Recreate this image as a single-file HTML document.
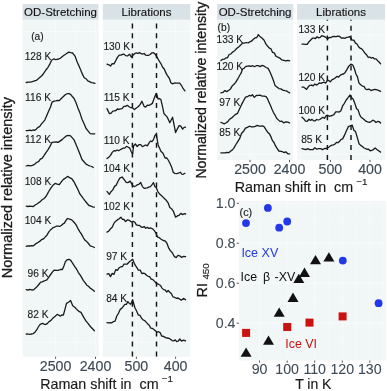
<!DOCTYPE html>
<html><head><meta charset="utf-8"><style>
html,body{margin:0;padding:0;background:#fff;}
svg{display:block;will-change:transform;}
text{font-family:"Liberation Sans",sans-serif;}
</style></head><body>
<svg width="387" height="391" viewBox="0 0 387 391">
<rect width="387" height="391" fill="#fff"/>
<rect x="22.6" y="4.0" width="75.90" height="15.80" fill="#D9E2E6"/>
<rect x="102.8" y="4.0" width="87.50" height="15.80" fill="#D9E2E6"/>
<rect x="22.6" y="19.8" width="75.90" height="336.90" fill="#F1F6F6"/>
<rect x="102.8" y="19.8" width="87.50" height="336.90" fill="#F1F6F6"/>
<line x1="75.6" y1="19.8" x2="75.6" y2="356.7" stroke="#FFFFFF" stroke-width="0.5"  stroke-opacity="0.55"/>
<line x1="55.6" y1="19.8" x2="55.6" y2="356.7" stroke="#FFFFFF" stroke-width="1"  stroke-opacity="0.55"/>
<line x1="95.5" y1="19.8" x2="95.5" y2="356.7" stroke="#FFFFFF" stroke-width="1"  stroke-opacity="0.55"/>
<line x1="156.0" y1="19.8" x2="156.0" y2="356.7" stroke="#FFFFFF" stroke-width="0.5"  stroke-opacity="0.55"/>
<line x1="136.4" y1="19.8" x2="136.4" y2="356.7" stroke="#FFFFFF" stroke-width="1"  stroke-opacity="0.55"/>
<line x1="175.6" y1="19.8" x2="175.6" y2="356.7" stroke="#FFFFFF" stroke-width="1"  stroke-opacity="0.55"/>
<line x1="22.6" y1="31.5" x2="98.5" y2="31.5" stroke="#FFFFFF" stroke-width="1"  stroke-opacity="0.55"/>
<line x1="102.8" y1="31.5" x2="190.3" y2="31.5" stroke="#FFFFFF" stroke-width="1"  stroke-opacity="0.55"/>
<line x1="22.6" y1="342.2" x2="98.5" y2="342.2" stroke="#FFFFFF" stroke-width="1"  stroke-opacity="0.55"/>
<line x1="102.8" y1="342.2" x2="190.3" y2="342.2" stroke="#FFFFFF" stroke-width="1"  stroke-opacity="0.55"/>
<text x="60.55" y="16.4" font-size="11.5" fill="#111" stroke="#111" stroke-width="0.12" text-anchor="middle" >OD-Stretching</text>
<text x="146.55" y="16.4" font-size="11.5" fill="#111" stroke="#111" stroke-width="0.12" text-anchor="middle" >Librations</text>
<rect x="217.0" y="4.0" width="76.20" height="15.80" fill="#D9E2E6"/>
<rect x="297.0" y="4.0" width="88.00" height="15.80" fill="#D9E2E6"/>
<rect x="217.0" y="19.8" width="76.20" height="140.10" fill="#F1F6F6"/>
<rect x="297.0" y="19.8" width="88.00" height="140.10" fill="#F1F6F6"/>
<line x1="269.8" y1="19.8" x2="269.8" y2="159.9" stroke="#FFFFFF" stroke-width="0.5"  stroke-opacity="0.55"/>
<line x1="250.0" y1="19.8" x2="250.0" y2="159.9" stroke="#FFFFFF" stroke-width="1"  stroke-opacity="0.55"/>
<line x1="289.5" y1="19.8" x2="289.5" y2="159.9" stroke="#FFFFFF" stroke-width="1"  stroke-opacity="0.55"/>
<line x1="350.2" y1="19.8" x2="350.2" y2="159.9" stroke="#FFFFFF" stroke-width="0.5"  stroke-opacity="0.55"/>
<line x1="330.4" y1="19.8" x2="330.4" y2="159.9" stroke="#FFFFFF" stroke-width="1"  stroke-opacity="0.55"/>
<line x1="370.0" y1="19.8" x2="370.0" y2="159.9" stroke="#FFFFFF" stroke-width="1"  stroke-opacity="0.55"/>
<line x1="217.0" y1="35.2" x2="293.2" y2="35.2" stroke="#FFFFFF" stroke-width="1"  stroke-opacity="0.55"/>
<line x1="297.0" y1="35.2" x2="385.0" y2="35.2" stroke="#FFFFFF" stroke-width="1"  stroke-opacity="0.55"/>
<line x1="217.0" y1="154.6" x2="293.2" y2="154.6" stroke="#FFFFFF" stroke-width="1"  stroke-opacity="0.55"/>
<line x1="297.0" y1="154.6" x2="385.0" y2="154.6" stroke="#FFFFFF" stroke-width="1"  stroke-opacity="0.55"/>
<text x="255.1" y="16.4" font-size="11.5" fill="#111" stroke="#111" stroke-width="0.12" text-anchor="middle" >OD-Stretching</text>
<text x="341.0" y="16.4" font-size="11.5" fill="#111" stroke="#111" stroke-width="0.12" text-anchor="middle" >Librations</text>
<rect x="238.9" y="200.9" width="147.30" height="159.60" fill="#F1F6F6"/>
<line x1="259.6" y1="200.9" x2="259.6" y2="360.5" stroke="#FFFFFF" stroke-width="1"  stroke-opacity="0.55"/>
<line x1="287.15000000000003" y1="200.9" x2="287.15000000000003" y2="360.5" stroke="#FFFFFF" stroke-width="1"  stroke-opacity="0.55"/>
<line x1="314.70000000000005" y1="200.9" x2="314.70000000000005" y2="360.5" stroke="#FFFFFF" stroke-width="1"  stroke-opacity="0.55"/>
<line x1="342.25" y1="200.9" x2="342.25" y2="360.5" stroke="#FFFFFF" stroke-width="1"  stroke-opacity="0.55"/>
<line x1="369.8" y1="200.9" x2="369.8" y2="360.5" stroke="#FFFFFF" stroke-width="1"  stroke-opacity="0.55"/>
<line x1="245.82500000000002" y1="200.9" x2="245.82500000000002" y2="360.5" stroke="#FFFFFF" stroke-width="0.5"  stroke-opacity="0.55"/>
<line x1="273.375" y1="200.9" x2="273.375" y2="360.5" stroke="#FFFFFF" stroke-width="0.5"  stroke-opacity="0.55"/>
<line x1="300.925" y1="200.9" x2="300.925" y2="360.5" stroke="#FFFFFF" stroke-width="0.5"  stroke-opacity="0.55"/>
<line x1="328.475" y1="200.9" x2="328.475" y2="360.5" stroke="#FFFFFF" stroke-width="0.5"  stroke-opacity="0.55"/>
<line x1="356.02500000000003" y1="200.9" x2="356.02500000000003" y2="360.5" stroke="#FFFFFF" stroke-width="0.5"  stroke-opacity="0.55"/>
<line x1="383.57500000000005" y1="200.9" x2="383.57500000000005" y2="360.5" stroke="#FFFFFF" stroke-width="0.5"  stroke-opacity="0.55"/>
<line x1="238.9" y1="203.3" x2="386.2" y2="203.3" stroke="#FFFFFF" stroke-width="1"  stroke-opacity="0.55"/>
<line x1="238.9" y1="243.26" x2="386.2" y2="243.26" stroke="#FFFFFF" stroke-width="1"  stroke-opacity="0.55"/>
<line x1="238.9" y1="283.22" x2="386.2" y2="283.22" stroke="#FFFFFF" stroke-width="1"  stroke-opacity="0.55"/>
<line x1="238.9" y1="323.18" x2="386.2" y2="323.18" stroke="#FFFFFF" stroke-width="1"  stroke-opacity="0.55"/>
<line x1="238.9" y1="223.28" x2="386.2" y2="223.28" stroke="#FFFFFF" stroke-width="0.5"  stroke-opacity="0.55"/>
<line x1="238.9" y1="263.24" x2="386.2" y2="263.24" stroke="#FFFFFF" stroke-width="0.5"  stroke-opacity="0.55"/>
<line x1="238.9" y1="303.20000000000005" x2="386.2" y2="303.20000000000005" stroke="#FFFFFF" stroke-width="0.5"  stroke-opacity="0.55"/>
<line x1="238.9" y1="343.15999999999997" x2="386.2" y2="343.15999999999997" stroke="#FFFFFF" stroke-width="0.5"  stroke-opacity="0.55"/>
<polyline points="26.2,82.5 28.3,82.1 30.3,82.2 32.4,81.6 34.5,80.9 36.5,80.3 38.6,78.6 40.3,77.1 42.1,75.5 43.8,73.1 45.9,70.0 48.0,67.3 49.8,64.1 51.6,60.3 54.0,58.8 55.5,59.7 57.0,59.3 58.6,59.0 60.2,58.3 62.1,56.7 64.0,55.3 66.3,53.8 68.7,52.1 70.7,52.6 72.6,53.0 75.0,56.1 77.2,61.9 78.8,65.5 80.5,69.4 82.3,73.9 84.2,77.7 86.0,78.7 87.8,80.9 89.6,81.6 91.4,82.6 93.2,82.8 95.0,83.4" fill="none" stroke="#1a1a1a" stroke-width="1.3" stroke-linejoin="round" stroke-linecap="round"/>
<polyline points="26.2,130.7 27.9,130.6 29.7,130.2 31.4,130.6 33.0,130.0 34.5,130.4 36.2,129.3 37.9,127.4 39.6,126.6 41.3,124.2 43.1,122.1 44.8,120.1 46.8,115.4 48.9,110.6 50.5,107.0 52.0,102.2 54.1,101.1 55.8,100.9 57.6,100.3 59.3,100.6 61.3,98.5 63.4,96.5 65.5,94.5 67.5,93.7 69.0,93.7 70.6,94.4 72.3,96.5 74.1,98.5 76.0,102.7 77.9,107.9 80.0,113.1 82.0,119.2 84.0,123.5 86.1,128.5 88.2,131.1 90.2,133.6 92.5,133.8 94.8,133.8" fill="none" stroke="#1a1a1a" stroke-width="1.3" stroke-linejoin="round" stroke-linecap="round"/>
<polyline points="26.2,166.0 28.3,165.4 30.3,165.9 32.4,165.3 34.5,164.4 36.5,162.5 38.6,161.7 40.3,159.2 42.1,158.3 43.8,155.9 45.8,152.8 47.9,149.8 50.0,146.4 52.0,142.3 54.1,142.1 56.2,142.0 58.2,142.4 60.3,140.9 62.4,139.4 64.5,137.4 66.5,135.8 68.5,135.4 70.6,135.8 72.3,137.8 74.1,139.9 76.0,144.6 77.9,148.9 80.0,154.2 82.0,159.5 84.0,161.8 86.1,164.1 88.2,165.3 90.2,166.0 91.8,166.5 93.3,167.5" fill="none" stroke="#1a1a1a" stroke-width="1.3" stroke-linejoin="round" stroke-linecap="round"/>
<polyline points="26.2,206.2 28.0,206.5 29.8,206.1 31.6,206.4 33.4,206.5 35.1,205.0 36.9,204.0 38.6,202.7 40.3,201.6 42.1,199.7 43.8,198.7 45.3,197.3 46.9,194.9 49.0,191.0 51.0,187.8 53.0,185.2 55.1,183.4 57.2,184.1 59.3,184.7 61.3,181.9 63.4,179.4 65.5,178.1 67.5,176.4 69.6,177.6 71.7,178.7 73.8,181.5 75.8,185.4 77.8,189.3 79.9,194.0 81.6,196.1 83.4,198.6 85.1,200.8 87.2,203.5 89.2,205.7 90.9,206.0 92.7,206.9 94.4,207.2" fill="none" stroke="#1a1a1a" stroke-width="1.3" stroke-linejoin="round" stroke-linecap="round"/>
<polyline points="26.2,246.4 28.0,245.8 29.8,246.0 31.6,245.6 33.4,245.8 35.5,243.9 37.5,242.7 39.6,241.4 41.7,239.6 43.8,238.6 45.3,236.9 46.9,235.2 49.0,231.6 51.0,229.4 52.7,227.9 54.5,227.2 56.2,226.2 57.9,226.1 59.6,226.3 61.3,225.5 62.9,224.0 64.4,223.1 66.0,220.4 67.5,218.5 69.6,219.1 71.7,219.9 73.8,222.0 75.8,224.4 77.8,228.3 79.9,231.8 81.6,234.4 83.4,237.8 85.1,240.3 86.8,241.6 88.5,243.5 90.2,245.8 92.3,246.5 94.4,247.5" fill="none" stroke="#1a1a1a" stroke-width="1.3" stroke-linejoin="round" stroke-linecap="round"/>
<polyline points="26.2,289.7 28.0,290.1 29.8,289.3 31.6,290.0 33.4,289.9 35.5,288.1 37.6,286.0 39.2,284.0 40.7,282.2 42.2,281.8 43.8,281.1 45.3,280.5 46.9,279.9 49.0,276.8 51.0,274.0 52.5,271.9 54.1,270.2 56.2,270.3 58.2,270.3 60.3,269.5 62.4,269.5 64.0,265.7 65.5,261.4 67.5,259.6 69.0,259.4 70.6,260.2 72.7,263.4 74.8,266.7 76.5,269.0 78.2,272.3 79.9,274.7 81.6,277.4 83.4,280.6 85.1,282.7 86.8,285.2 88.5,286.3 90.2,288.1 92.3,289.5 94.4,291.3" fill="none" stroke="#1a1a1a" stroke-width="1.3" stroke-linejoin="round" stroke-linecap="round"/>
<polyline points="26.2,334.0 28.2,334.2 30.3,334.4 31.9,333.9 33.4,333.6 35.0,332.2 36.5,330.2 38.0,327.5 39.6,325.0 41.2,323.8 42.7,323.3 44.2,324.3 45.8,324.4 47.3,323.6 48.9,321.7 51.0,320.4 53.1,317.9 55.2,316.3 57.2,314.4 58.8,315.1 60.3,316.2 61.8,315.0 63.4,315.0 65.0,309.1 66.5,303.4 68.5,302.2 70.6,300.4 72.7,305.7 74.8,307.2 76.8,309.4 78.9,311.3 81.0,312.4 82.5,315.1 84.0,317.9 86.1,321.1 88.2,323.7 90.3,326.5 92.3,328.5 94.4,330.7" fill="none" stroke="#1a1a1a" stroke-width="1.3" stroke-linejoin="round" stroke-linecap="round"/>
<text x="38.0" y="59.6" font-size="10.2" fill="#1a1a1a" stroke="#1a1a1a" stroke-width="0.12" text-anchor="middle" >128 K</text>
<text x="38.0" y="101.4" font-size="10.2" fill="#1a1a1a" stroke="#1a1a1a" stroke-width="0.12" text-anchor="middle" >116 K</text>
<text x="38.0" y="142.7" font-size="10.2" fill="#1a1a1a" stroke="#1a1a1a" stroke-width="0.12" text-anchor="middle" >112 K</text>
<text x="38.0" y="184.9" font-size="10.2" fill="#1a1a1a" stroke="#1a1a1a" stroke-width="0.12" text-anchor="middle" >108 K</text>
<text x="38.0" y="224.1" font-size="10.2" fill="#1a1a1a" stroke="#1a1a1a" stroke-width="0.12" text-anchor="middle" >104 K</text>
<text x="38.0" y="276.9" font-size="10.2" fill="#1a1a1a" stroke="#1a1a1a" stroke-width="0.12" text-anchor="middle" >96 K</text>
<text x="38.0" y="317.9" font-size="10.2" fill="#1a1a1a" stroke="#1a1a1a" stroke-width="0.12" text-anchor="middle" >82 K</text>
<polyline points="107.0,64.2 108.8,64.8 110.5,66.0 112.2,63.6 114.0,63.9 115.7,60.7 117.4,57.4 119.2,55.2 120.9,55.1 122.5,54.3 124.0,54.1 125.6,55.6 127.5,55.9 129.5,54.2 131.4,57.1 133.2,54.9 134.9,53.4 136.4,52.9 138.0,53.5 139.5,52.4 141.1,53.7 142.6,54.1 144.2,53.5 145.7,55.2 147.3,55.4 148.8,55.3 150.4,54.3 151.9,52.8 153.5,52.7 155.2,54.2 157.0,57.2 159.3,61.2 161.1,64.0 162.8,67.5 164.3,69.0 165.9,72.9 167.4,75.6 169.2,78.0 170.9,82.7 172.7,83.9 174.4,83.0 176.2,83.2 177.9,83.2 179.7,83.1 181.4,85.3 183.2,88.7 184.9,90.9" fill="none" stroke="#1a1a1a" stroke-width="1.3" stroke-linejoin="round" stroke-linecap="round"/>
<polyline points="107.0,108.6 109.3,113.5 111.0,113.3 112.8,111.1 114.3,110.9 115.9,110.5 117.4,109.0 119.0,109.4 120.5,108.9 122.1,108.7 123.8,106.3 125.6,106.4 127.3,105.3 129.1,106.7 130.8,107.7 132.6,107.9 134.3,109.6 136.0,108.2 138.4,106.5 140.2,104.4 141.9,101.2 144.2,106.4 145.7,107.1 147.3,105.2 148.8,105.3 150.6,104.6 152.3,103.4 154.7,97.1 156.3,93.3 158.1,99.0 159.5,98.6 160.9,99.7 162.4,106.2 164.0,113.7 165.7,115.4 167.4,117.4 169.8,122.7 171.2,120.0 172.6,117.3 174.1,125.2 175.6,132.5 177.3,129.0 179.1,125.6 180.8,126.2 182.6,129.2 184.1,127.4 185.6,127.2" fill="none" stroke="#1a1a1a" stroke-width="1.3" stroke-linejoin="round" stroke-linecap="round"/>
<polyline points="107.0,158.6 108.8,157.2 110.5,155.4 112.2,152.4 114.0,150.6 115.5,151.0 117.1,150.0 118.6,150.8 120.2,149.7 121.7,148.9 123.3,148.2 124.8,148.1 126.4,146.4 127.9,147.0 129.7,148.1 131.4,152.0 132.6,153.8 133.7,145.7 135.4,144.0 137.2,146.5 138.9,144.7 140.7,144.6 142.4,146.7 144.2,145.7 145.7,145.0 147.3,145.8 148.8,143.3 150.4,141.0 151.9,141.7 153.5,139.6 154.9,135.4 156.3,134.2 158.1,144.9 159.5,148.1 160.9,151.2 163.0,153.3 165.1,158.0 166.7,157.8 168.2,160.0 169.8,163.0 171.6,166.9 173.3,172.5 175.0,173.4 176.7,173.6 178.4,173.2 180.2,172.2 181.8,174.1 183.3,174.3 184.9,173.3" fill="none" stroke="#1a1a1a" stroke-width="1.3" stroke-linejoin="round" stroke-linecap="round"/>
<polyline points="107.0,191.4 109.3,194.3 111.0,191.7 112.8,189.9 114.5,186.4 116.3,185.1 118.0,181.3 119.8,178.1 122.1,177.0 124.4,179.9 126.2,182.4 127.9,182.6 130.2,181.1 132.6,185.5 134.1,186.6 135.7,186.0 137.2,184.8 138.9,184.3 140.7,182.5 142.4,186.6 144.2,188.4 145.7,188.1 147.3,187.8 148.8,187.2 150.4,186.6 151.9,184.9 153.5,182.6 154.9,186.6 156.3,187.7 157.8,191.5 159.3,193.7 161.1,195.3 162.8,196.9 164.6,198.8 166.3,200.3 168.1,202.8 169.8,207.4 171.6,208.8 173.3,211.1 175.6,217.2 177.3,215.9 179.1,215.3 180.8,213.4 182.6,214.6 184.1,213.7 185.6,214.0" fill="none" stroke="#1a1a1a" stroke-width="1.3" stroke-linejoin="round" stroke-linecap="round"/>
<polyline points="107.0,232.1 108.8,231.0 110.5,228.8 112.2,227.3 114.0,223.2 115.7,221.2 117.4,219.9 119.2,218.8 120.9,217.2 122.5,219.3 124.0,219.5 125.6,221.6 127.5,219.8 129.5,220.4 131.4,222.0 133.2,221.3 134.9,222.3 136.4,224.8 138.0,225.3 139.5,225.4 141.1,227.0 142.6,227.4 144.2,226.5 145.7,228.3 147.3,227.2 148.8,228.4 150.8,228.0 152.7,228.9 154.7,231.1 155.8,233.0 157.6,237.1 159.3,237.7 161.2,239.2 163.2,240.5 165.1,240.8 166.8,243.0 168.6,247.8 170.3,250.6 172.1,252.5 174.4,256.6 176.2,257.6 177.9,255.4 179.7,255.8 181.4,257.4 183.5,256.4 185.6,256.7" fill="none" stroke="#1a1a1a" stroke-width="1.3" stroke-linejoin="round" stroke-linecap="round"/>
<polyline points="107.0,274.2 108.8,273.6 110.5,276.6 112.2,273.4 114.0,274.4 115.7,269.6 117.4,270.3 119.2,267.7 120.9,266.8 122.5,266.5 124.0,264.1 125.6,264.2 127.3,264.0 129.1,262.0 130.8,260.8 132.6,259.2 134.9,264.7 136.7,267.3 138.4,270.1 140.2,270.1 141.9,273.5 143.4,273.1 145.0,273.7 146.5,275.3 148.1,276.3 149.6,276.7 151.2,279.1 152.9,279.6 154.6,281.4 156.3,283.3 158.4,284.2 160.5,285.5 162.0,288.1 163.6,289.6 165.1,289.8 166.7,292.0 168.2,290.5 169.8,292.2 171.3,293.5 172.9,296.8 174.4,297.2 176.2,298.3 177.9,298.0 179.7,299.1 181.4,300.2 183.5,298.4 185.6,299.8" fill="none" stroke="#1a1a1a" stroke-width="1.3" stroke-linejoin="round" stroke-linecap="round"/>
<polyline points="107.0,322.6 108.5,322.8 110.1,322.7 111.6,322.9 113.3,321.7 115.1,321.1 116.8,316.0 118.6,313.1 120.2,309.4 121.7,308.4 123.3,306.3 124.8,304.4 126.4,304.4 127.9,301.5 129.3,303.5 130.7,304.2 132.6,299.7 134.9,307.8 136.7,311.3 138.4,315.2 139.9,315.2 141.5,318.1 143.0,319.8 144.6,320.5 146.1,322.1 147.7,323.9 149.2,325.2 150.8,328.1 152.3,328.3 153.9,329.5 155.4,330.8 157.0,332.2 158.5,331.7 160.1,332.6 161.6,336.0 163.5,336.4 165.5,337.6 167.4,338.0 169.0,338.4 170.5,339.3 172.1,340.6 173.6,340.9 175.2,339.9 176.7,341.6 178.3,341.0 179.8,339.0 181.4,341.1 183.5,340.2 185.6,340.9" fill="none" stroke="#1a1a1a" stroke-width="1.3" stroke-linejoin="round" stroke-linecap="round"/>
<text x="116.7" y="49.8" font-size="10.2" fill="#1a1a1a" stroke="#1a1a1a" stroke-width="0.12" text-anchor="middle" >130 K</text>
<text x="116.7" y="100.9" font-size="10.2" fill="#1a1a1a" stroke="#1a1a1a" stroke-width="0.12" text-anchor="middle" >115 K</text>
<text x="116.7" y="143.5" font-size="10.2" fill="#1a1a1a" stroke="#1a1a1a" stroke-width="0.12" text-anchor="middle" >110 K</text>
<text x="116.7" y="172.1" font-size="10.2" fill="#1a1a1a" stroke="#1a1a1a" stroke-width="0.12" text-anchor="middle" >104 K</text>
<text x="116.7" y="210" font-size="10.2" fill="#1a1a1a" stroke="#1a1a1a" stroke-width="0.12" text-anchor="middle" >102 K</text>
<text x="116.7" y="260.2" font-size="10.2" fill="#1a1a1a" stroke="#1a1a1a" stroke-width="0.12" text-anchor="middle" >97 K</text>
<text x="116.7" y="301.6" font-size="10.2" fill="#1a1a1a" stroke="#1a1a1a" stroke-width="0.12" text-anchor="middle" >84 K</text>
<polyline points="220.9,60.5 222.5,59.4 224.2,59.2 225.8,57.9 227.5,57.8 229.1,54.5 230.8,54.0 232.7,52.0 234.7,50.7 236.6,48.5 238.6,46.9 240.5,45.3 242.5,43.1 244.5,43.1 246.5,42.5 248.1,43.0 249.8,41.9 251.4,41.2 253.4,39.2 255.3,37.8 256.8,37.5 258.3,34.6 260.2,36.8 262.2,38.3 264.1,40.2 266.1,44.4 267.7,46.2 269.4,48.1 271.0,48.9 272.6,52.4 274.3,52.9 275.9,56.1 277.9,57.2 279.8,58.1 281.8,59.9 283.8,60.4 285.8,60.9 287.8,60.3 289.7,60.8" fill="none" stroke="#1a1a1a" stroke-width="1.3" stroke-linejoin="round" stroke-linecap="round"/>
<polyline points="220.9,92.9 222.9,92.4 224.9,90.6 226.8,91.6 228.8,90.2 230.5,88.9 232.2,85.9 234.0,84.3 235.7,82.4 237.6,79.2 239.6,75.5 241.1,73.2 242.5,69.0 244.0,68.4 245.5,66.6 247.3,66.1 249.2,66.0 251.0,66.4 252.8,65.7 254.5,66.7 256.3,65.7 258.3,65.6 260.2,66.6 262.2,65.4 264.2,66.2 266.1,67.5 268.1,68.4 270.1,72.3 272.0,76.7 273.5,80.8 275.0,85.4 276.9,86.9 278.9,88.6 280.9,88.9 282.8,90.1 284.8,90.7 286.4,90.9 288.1,92.0 289.7,92.9" fill="none" stroke="#1a1a1a" stroke-width="1.3" stroke-linejoin="round" stroke-linecap="round"/>
<polyline points="220.9,122.4 222.5,123.0 224.2,123.8 225.8,123.0 227.8,121.6 229.7,119.2 231.7,117.9 233.7,116.1 235.6,114.3 237.6,113.3 239.6,108.8 241.6,104.4 243.6,100.7 245.5,97.1 247.4,96.7 249.4,95.4 250.9,96.0 252.4,94.7 254.3,97.4 256.3,95.5 258.3,95.4 260.2,95.1 262.2,96.2 264.2,96.2 266.1,96.7 267.6,98.9 269.1,102.4 270.6,105.8 272.0,109.3 273.5,112.6 275.0,115.0 276.6,118.3 278.3,119.9 279.9,121.4 281.9,121.2 283.8,122.9 285.8,121.8 287.8,122.1 289.7,123.0" fill="none" stroke="#1a1a1a" stroke-width="1.3" stroke-linejoin="round" stroke-linecap="round"/>
<polyline points="220.9,152.9 222.9,152.9 224.9,152.8 226.8,152.5 228.8,152.7 230.4,151.2 232.1,150.1 233.7,148.4 235.6,145.0 237.6,141.8 239.6,138.7 241.6,133.3 243.6,131.2 245.5,128.2 247.4,127.4 249.4,126.2 251.4,126.9 253.3,126.9 255.3,126.3 257.2,125.4 259.2,126.1 260.9,126.1 262.5,125.9 264.2,126.8 266.1,129.8 268.1,132.8 269.6,134.1 271.0,136.9 272.5,140.7 274.0,142.5 275.4,145.7 276.9,148.2 278.9,151.0 280.9,151.4 282.5,151.7 284.2,152.6 285.8,151.8 287.8,153.8 289.7,153.9" fill="none" stroke="#1a1a1a" stroke-width="1.3" stroke-linejoin="round" stroke-linecap="round"/>
<text x="229.8" y="43.4" font-size="10.2" fill="#1a1a1a" stroke="#1a1a1a" stroke-width="0.12" text-anchor="middle" >133 K</text>
<text x="229.8" y="70.3" font-size="10.2" fill="#1a1a1a" stroke="#1a1a1a" stroke-width="0.12" text-anchor="middle" >120 K</text>
<text x="229.8" y="106" font-size="10.2" fill="#1a1a1a" stroke="#1a1a1a" stroke-width="0.12" text-anchor="middle" >97 K</text>
<text x="229.8" y="135.8" font-size="10.2" fill="#1a1a1a" stroke="#1a1a1a" stroke-width="0.12" text-anchor="middle" >85 K</text>
<polyline points="302.0,44.1 303.8,44.2 305.5,44.3 307.2,44.3 309.0,41.7 310.7,40.0 312.4,38.2 314.0,38.2 315.5,38.5 317.1,36.8 318.6,37.9 320.2,37.4 321.7,35.7 323.7,36.3 325.6,37.1 327.6,39.1 329.1,37.5 330.7,37.6 332.2,36.7 334.1,36.5 336.1,36.7 338.0,36.2 339.8,36.5 341.5,38.2 343.2,37.8 345.0,38.3 346.6,37.4 348.1,37.2 349.7,36.6 352.0,40.2 353.8,40.2 355.5,43.1 357.0,44.0 358.6,46.8 360.1,48.2 361.7,48.9 363.2,50.7 364.8,53.0 366.6,54.8 368.3,57.5 369.8,57.0 371.4,58.2 372.9,57.5 374.5,58.9 376.0,58.8 377.6,60.7 379.1,62.0 380.6,63.8" fill="none" stroke="#1a1a1a" stroke-width="1.3" stroke-linejoin="round" stroke-linecap="round"/>
<polyline points="302.0,87.1 303.5,87.1 305.1,88.3 306.6,89.4 308.4,86.6 310.1,85.3 311.7,85.1 313.2,85.8 314.8,83.9 316.3,85.1 317.9,84.2 319.4,82.8 321.0,83.4 322.5,82.6 324.1,82.2 325.6,83.1 327.2,80.6 328.7,80.5 330.3,81.8 331.8,79.8 333.4,79.2 335.1,77.9 336.9,76.4 338.6,77.2 340.3,75.1 341.9,74.4 343.4,74.0 345.0,72.7 347.0,69.4 348.8,66.1 350.8,64.2 352.8,65.1 354.6,69.3 355.9,74.0 357.4,76.6 359.0,83.1 360.7,84.8 362.4,86.1 364.0,86.4 365.5,89.0 367.1,89.7 369.0,89.1 371.0,90.6 372.9,89.9 374.6,89.4 376.4,89.7 378.5,90.3 380.6,91.3" fill="none" stroke="#1a1a1a" stroke-width="1.3" stroke-linejoin="round" stroke-linecap="round"/>
<polyline points="302.0,117.2 303.8,118.9 305.5,121.1 307.2,121.3 309.0,119.3 310.5,120.4 312.1,119.4 313.6,120.9 315.2,120.8 316.7,119.5 318.3,120.0 319.8,119.5 321.4,118.2 322.9,117.4 324.5,118.3 326.0,115.9 327.6,115.2 329.1,116.3 330.7,115.9 332.2,115.5 333.9,114.6 335.7,111.8 337.4,111.9 339.2,112.0 340.9,110.8 342.7,105.7 344.4,103.3 346.2,100.0 348.1,97.6 350.1,95.0 351.6,97.7 353.1,99.1 354.9,103.6 356.6,108.8 358.2,110.1 359.7,114.9 361.3,117.5 362.8,118.4 364.4,119.7 365.9,121.2 367.6,121.9 369.4,122.4 371.1,121.6 372.9,120.2 374.5,121.0 376.0,122.5 377.6,121.5 379.1,121.6 380.6,123.0" fill="none" stroke="#1a1a1a" stroke-width="1.3" stroke-linejoin="round" stroke-linecap="round"/>
<polyline points="302.0,148.6 303.9,149.1 305.9,149.7 307.8,148.7 309.6,149.6 311.3,149.7 313.1,149.5 314.8,147.8 316.7,149.1 318.7,148.7 320.6,148.6 322.5,149.6 324.5,148.5 326.4,148.5 328.7,147.2 330.3,146.0 331.8,145.1 333.4,144.8 334.9,144.2 336.5,142.3 338.0,142.7 339.6,141.3 341.1,139.3 342.7,138.9 344.4,135.4 346.2,131.2 348.5,126.4 350.3,125.9 352.2,125.1 353.9,130.2 355.5,131.6 357.2,137.1 359.0,143.7 360.7,145.4 362.4,146.5 364.0,148.0 365.5,148.5 367.1,149.4 368.6,149.2 370.2,150.8 371.7,150.4 373.4,149.6 375.2,148.0 376.9,149.4 378.7,150.8 380.6,152.1" fill="none" stroke="#1a1a1a" stroke-width="1.3" stroke-linejoin="round" stroke-linecap="round"/>
<text x="311.7" y="33.1" font-size="10.2" fill="#1a1a1a" stroke="#1a1a1a" stroke-width="0.12" text-anchor="middle" >133 K</text>
<text x="311.7" y="81.3" font-size="10.2" fill="#1a1a1a" stroke="#1a1a1a" stroke-width="0.12" text-anchor="middle" >120 K</text>
<text x="311.7" y="113.7" font-size="10.2" fill="#1a1a1a" stroke="#1a1a1a" stroke-width="0.12" text-anchor="middle" >100 K</text>
<text x="311.7" y="143.3" font-size="10.2" fill="#1a1a1a" stroke="#1a1a1a" stroke-width="0.12" text-anchor="middle" >85 K</text>
<text x="31.2" y="40.0" font-size="10.2" fill="#1a1a1a" stroke="#1a1a1a" stroke-width="0.15" text-anchor="start" >(a)</text>
<text x="217.6" y="30.8" font-size="10.2" fill="#1a1a1a" stroke="#1a1a1a" stroke-width="0.15" text-anchor="start" >(b)</text>
<line x1="132.4" y1="356.4" x2="132.4" y2="19.8" stroke="#151515" stroke-width="1.45" stroke-dasharray="5 4.94"/>
<line x1="156.5" y1="356.4" x2="156.5" y2="19.8" stroke="#151515" stroke-width="1.45" stroke-dasharray="5 4.94"/>
<line x1="327.4" y1="159.9" x2="327.4" y2="19.8" stroke="#151515" stroke-width="1.45" stroke-dasharray="5 4.94"/>
<line x1="351.0" y1="159.9" x2="351.0" y2="19.8" stroke="#151515" stroke-width="1.45" stroke-dasharray="5 4.94"/>
<line x1="55.6" y1="356.7" x2="55.6" y2="358.9" stroke="#555" stroke-width="1" />
<line x1="95.5" y1="356.7" x2="95.5" y2="358.9" stroke="#555" stroke-width="1" />
<line x1="136.4" y1="356.7" x2="136.4" y2="358.9" stroke="#555" stroke-width="1" />
<line x1="175.6" y1="356.7" x2="175.6" y2="358.9" stroke="#555" stroke-width="1" />
<line x1="250.0" y1="159.9" x2="250.0" y2="162.1" stroke="#555" stroke-width="1" />
<line x1="289.5" y1="159.9" x2="289.5" y2="162.1" stroke="#555" stroke-width="1" />
<line x1="330.4" y1="159.9" x2="330.4" y2="162.1" stroke="#555" stroke-width="1" />
<line x1="370.0" y1="159.9" x2="370.0" y2="162.1" stroke="#555" stroke-width="1" />
<text x="55.6" y="370.6" font-size="14.2" fill="#3E4A55" stroke="#3E4A55" stroke-width="0.15" text-anchor="middle" >2500</text>
<text x="95.5" y="370.6" font-size="14.2" fill="#3E4A55" stroke="#3E4A55" stroke-width="0.15" text-anchor="middle" >2400</text>
<text x="136.4" y="370.6" font-size="14.2" fill="#3E4A55" stroke="#3E4A55" stroke-width="0.15" text-anchor="middle" >500</text>
<text x="175.6" y="370.6" font-size="14.2" fill="#3E4A55" stroke="#3E4A55" stroke-width="0.15" text-anchor="middle" >400</text>
<text x="250.0" y="174.2" font-size="14.2" fill="#3E4A55" stroke="#3E4A55" stroke-width="0.15" text-anchor="middle" >2500</text>
<text x="289.5" y="174.2" font-size="14.2" fill="#3E4A55" stroke="#3E4A55" stroke-width="0.15" text-anchor="middle" >2400</text>
<text x="330.4" y="174.2" font-size="14.2" fill="#3E4A55" stroke="#3E4A55" stroke-width="0.15" text-anchor="middle" >500</text>
<text x="370.0" y="174.2" font-size="14.2" fill="#3E4A55" stroke="#3E4A55" stroke-width="0.15" text-anchor="middle" >400</text>
<text x="40.2" y="388.9" font-size="14.3" fill="#1a1a1a" stroke="#1a1a1a" stroke-width="0.15" text-anchor="start" >Raman shift in</text>
<text x="139.5" y="388.9" font-size="14.3" fill="#1a1a1a" stroke="#1a1a1a" stroke-width="0.15" text-anchor="start" >cm</text>
<text x="161.8" y="381.6" font-size="9.8" fill="#1a1a1a" stroke="#1a1a1a" stroke-width="0.15" text-anchor="start" >−1</text>
<text x="234.8" y="191.89999999999998" font-size="14.3" fill="#1a1a1a" stroke="#1a1a1a" stroke-width="0.15" text-anchor="start" >Raman shift in</text>
<text x="334.1" y="191.89999999999998" font-size="14.3" fill="#1a1a1a" stroke="#1a1a1a" stroke-width="0.15" text-anchor="start" >cm</text>
<text x="356.4" y="184.60000000000002" font-size="9.8" fill="#1a1a1a" stroke="#1a1a1a" stroke-width="0.15" text-anchor="start" >−1</text>
<text transform="translate(11.9,278.3) rotate(-90)" font-size="14.5" fill="#1a1a1a" stroke="#1a1a1a" stroke-width="0.3">Normalized relative intensity</text>
<text transform="translate(206.0,178.6) rotate(-90)" font-size="14.15" fill="#1a1a1a" stroke="#1a1a1a" stroke-width="0.3">Normalized relative intensity</text>
<line x1="259.6" y1="360.5" x2="259.6" y2="362.7" stroke="#555" stroke-width="1" />
<text x="259.6" y="374.4" font-size="14.2" fill="#3E4A55" stroke="#3E4A55" stroke-width="0.05" text-anchor="middle" >90</text>
<line x1="287.15000000000003" y1="360.5" x2="287.15000000000003" y2="362.7" stroke="#555" stroke-width="1" />
<text x="287.15000000000003" y="374.4" font-size="14.2" fill="#3E4A55" stroke="#3E4A55" stroke-width="0.05" text-anchor="middle" >100</text>
<line x1="314.70000000000005" y1="360.5" x2="314.70000000000005" y2="362.7" stroke="#555" stroke-width="1" />
<text x="314.70000000000005" y="374.4" font-size="14.2" fill="#3E4A55" stroke="#3E4A55" stroke-width="0.05" text-anchor="middle" >110</text>
<line x1="342.25" y1="360.5" x2="342.25" y2="362.7" stroke="#555" stroke-width="1" />
<text x="342.25" y="374.4" font-size="14.2" fill="#3E4A55" stroke="#3E4A55" stroke-width="0.05" text-anchor="middle" >120</text>
<line x1="369.8" y1="360.5" x2="369.8" y2="362.7" stroke="#555" stroke-width="1" />
<text x="369.8" y="374.4" font-size="14.2" fill="#3E4A55" stroke="#3E4A55" stroke-width="0.05" text-anchor="middle" >130</text>
<line x1="236.70000000000002" y1="203.3" x2="238.9" y2="203.3" stroke="#555" stroke-width="1" />
<text x="235.5" y="208.4" font-size="14.2" fill="#3E4A55" stroke="#3E4A55" stroke-width="0.05" text-anchor="end" >1.0</text>
<line x1="236.70000000000002" y1="243.26" x2="238.9" y2="243.26" stroke="#555" stroke-width="1" />
<text x="235.5" y="248.35999999999999" font-size="14.2" fill="#3E4A55" stroke="#3E4A55" stroke-width="0.05" text-anchor="end" >0.8</text>
<line x1="236.70000000000002" y1="283.22" x2="238.9" y2="283.22" stroke="#555" stroke-width="1" />
<text x="235.5" y="288.32000000000005" font-size="14.2" fill="#3E4A55" stroke="#3E4A55" stroke-width="0.05" text-anchor="end" >0.6</text>
<line x1="236.70000000000002" y1="323.18" x2="238.9" y2="323.18" stroke="#555" stroke-width="1" />
<text x="235.5" y="328.28000000000003" font-size="14.2" fill="#3E4A55" stroke="#3E4A55" stroke-width="0.05" text-anchor="end" >0.4</text>
<text x="313.3" y="388.7" font-size="14" fill="#1a1a1a" stroke="#1a1a1a" stroke-width="0.15" text-anchor="middle" >T in K</text>
<text transform="translate(207.0,297.4) rotate(-90)" font-size="14.4" fill="#1a1a1a" stroke="#1a1a1a" stroke-width="0.25">RI</text>
<text transform="translate(208.7,279.6) rotate(-90)" font-size="9.8" fill="#1a1a1a" stroke="#1a1a1a" stroke-width="0.15">450</text>
<circle cx="246.0" cy="223.1" r="3.9" fill="#2338EA"/>
<circle cx="267.9" cy="207.9" r="3.9" fill="#2338EA"/>
<circle cx="279.2" cy="227.7" r="3.9" fill="#2338EA"/>
<circle cx="287.2" cy="221.5" r="3.9" fill="#2338EA"/>
<circle cx="342.8" cy="260.6" r="3.9" fill="#2338EA"/>
<circle cx="378.6" cy="303.2" r="3.9" fill="#2338EA"/>
<rect x="242.1" y="328.9" width="8" height="8" fill="#CC1111"/>
<rect x="283.2" y="323.0" width="8" height="8" fill="#CC1111"/>
<rect x="305.5" y="318.6" width="8" height="8" fill="#CC1111"/>
<rect x="338.6" y="312.4" width="8" height="8" fill="#CC1111"/>
<polygon points="246.1,347.4 240.6,356.7 251.6,356.7" fill="#111111"/>
<polygon points="268.5,335.5 263.0,344.8 274.0,344.8" fill="#111111"/>
<polygon points="279.2,307.4 273.7,316.7 284.7,316.7" fill="#111111"/>
<polygon points="293.0,292.6 287.5,301.9 298.5,301.9" fill="#111111"/>
<polygon points="298.8,273.8 293.3,283.1 304.3,283.1" fill="#111111"/>
<polygon points="304.5,267.6 299.0,276.9 310.0,276.9" fill="#111111"/>
<polygon points="315.5,255.0 310.0,264.3 321.0,264.3" fill="#111111"/>
<polygon points="328.9,252.3 323.4,261.6 334.4,261.6" fill="#111111"/>
<text x="239.6" y="215.8" font-size="10.8" fill="#222" stroke="#222" stroke-width="0.15" text-anchor="start" >(c)</text>
<text x="241.4" y="257.0" font-size="12.5" fill="#2338EA" stroke="#2338EA" stroke-width="0" text-anchor="start" >Ice XV</text>
<text x="240.5" y="281.2" font-size="12.4" fill="#111" stroke="#111" stroke-width="0" text-anchor="start" >Ice</text>
<text x="262.9" y="281.2" font-size="12.4" fill="#111" stroke="#111" stroke-width="0" text-anchor="start" >β</text>
<text x="274.6" y="281.2" font-size="12.4" fill="#111" stroke="#111" stroke-width="0" text-anchor="start" >-XV</text>
<text x="317.0" y="347.7" font-size="12.4" fill="#CC1111" stroke="#CC1111" stroke-width="0" text-anchor="end" >Ice VI</text>
</svg></body></html>
